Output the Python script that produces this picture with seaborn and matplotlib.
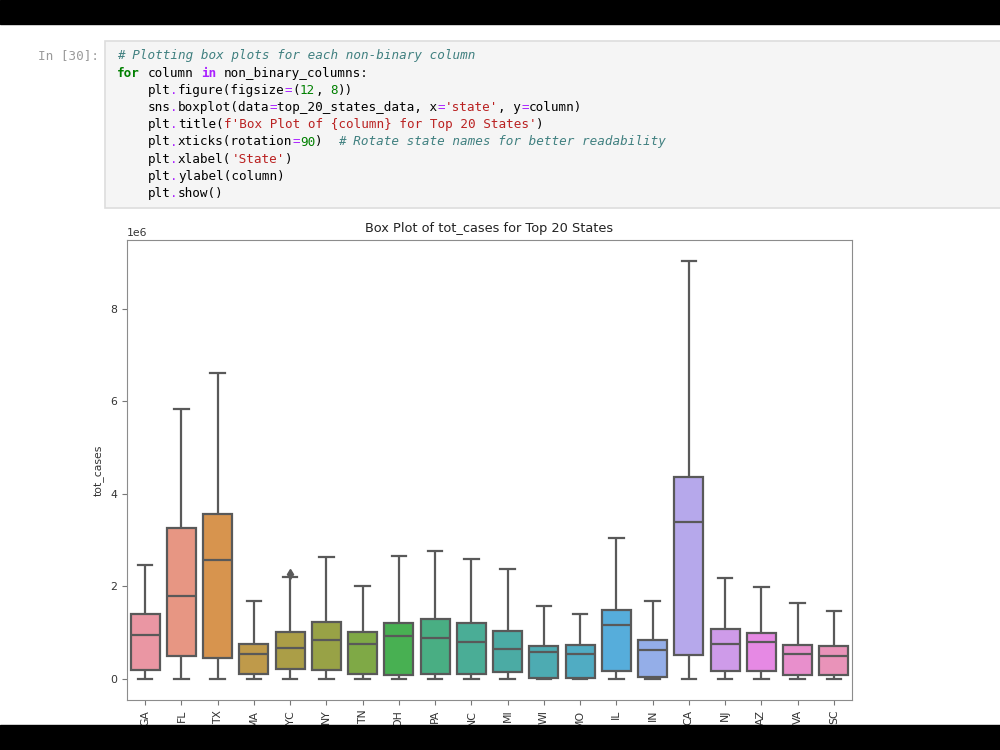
import re
import pandas as pd
import seaborn as sns
import matplotlib.pyplot as plt
from matplotlib.patches import Rectangle
from matplotlib.font_manager import FontProperties

# values (millions of cases)
states = ['GA', 'FL', 'TX', 'MA', 'NYC', 'NY', 'TN', 'OH', 'PA', 'NC',
          'MI', 'WI', 'MO', 'IL', 'IN', 'CA', 'NJ', 'AZ', 'VA', 'SC']
lows = [0.0] * 20
q1s = [0.20, 0.50, 0.45, 0.10, 0.22, 0.19, 0.10, 0.08, 0.10, 0.12,
       0.15, 0.03, 0.03, 0.17, 0.05, 0.52, 0.17, 0.17, 0.08, 0.08]
medians = [0.95, 1.80, 2.57, 0.55, 0.68, 0.85, 0.75, 0.93, 0.88, 0.81,
           0.65, 0.59, 0.55, 1.16, 0.63, 3.39, 0.75, 0.80, 0.55, 0.49]
q3s = [1.40, 3.26, 3.57, 0.76, 1.02, 1.23, 1.02, 1.20, 1.29, 1.21,
       1.04, 0.72, 0.74, 1.49, 0.84, 4.37, 1.09, 0.99, 0.74, 0.71]
highs = [2.46, 5.84, 6.62, 1.69, 2.20, 2.64, 2.01, 2.66, 2.77, 2.59,
         2.37, 1.58, 1.40, 3.05, 1.69, 9.03, 2.18, 1.99, 1.64, 1.46]
# NYC has extra points, incl. one outlier above the whisker
nyc_extra = [0.10, 0.45, 0.85, 2.27]

rows = []
for i, st in enumerate(states):
    for v in (lows[i], q1s[i], medians[i], q3s[i], highs[i]):
        rows.append((st, v * 1e6))
for v in nyc_extra:
    rows.append(('NYC', v * 1e6))
top_20_states_data = pd.DataFrame(rows, columns=['state', 'tot_cases'])

code_lines = [
    "# Plotting box plots for each non-binary column",
    "for column in non_binary_columns:",
    "    plt.figure(figsize=(12, 8))",
    "    sns.boxplot(data=top_20_states_data, x='state', y=column)",
    "    plt.title(f'Box Plot of {column} for Top 20 States')",
    "    plt.xticks(rotation=90)  # Rotate state names for better readability",
    "    plt.xlabel('State')",
    "    plt.ylabel(column)",
    "    plt.show()",
]

fig = plt.figure(figsize=(10, 7.5), dpi=100)

# the chart itself
ax = fig.add_axes([0.127, 0.0667, 0.725, 0.6133])
pal = sns.husl_palette(len(states), l=0.7)
sns.boxplot(data=top_20_states_data, x='state', y='tot_cases', hue='state',
            palette=pal, legend=False, saturation=0.75, linewidth=1.6,
            linecolor='#595959',
            flierprops=dict(marker='d', markerfacecolor='#595959',
                            markeredgecolor='#595959', markersize=5), ax=ax)
ax.set_title('Box Plot of tot_cases for Top 20 States', fontsize=9.3,
             color='#222222')
ax.tick_params(axis='x', rotation=90, labelsize=7.8, color='#777777',
               labelcolor='#333333')
ax.tick_params(axis='y', labelsize=7.8, color='#777777', labelcolor='#333333')
ax.yaxis.get_offset_text().set_fontsize(7.8)
ax.set_xlabel('State', fontsize=7.8)
ax.set_ylabel('tot_cases', fontsize=7.8, color='#333333')
for sp in ax.spines.values():
    sp.set_color('#8c8c8c')

# notebook chrome drawn on top, in pixel coords
ov = fig.add_axes([0, 0, 1, 1], zorder=10)
ov.set_xlim(0, 1000)
ov.set_ylim(750, 0)
ov.axis('off')
ov.patch.set_alpha(0)
ov.add_patch(Rectangle((0, 0), 1000, 24, color='black'))
ov.add_patch(Rectangle((0, 725), 1000, 25, color='black'))
ov.add_patch(Rectangle((105, 41), 910, 167, facecolor='#f5f5f5',
                       edgecolor='#dddddd', linewidth=1.2))

mono = 'DejaVu Sans Mono'
fs = 9.1
ov.text(38, 56, 'In [30]:', family=mono, fontsize=fs, color='#9a9a9a',
        va='center', ha='left')

# measure the real char advance so tokens line up
renderer = fig.canvas.get_renderer()
fp = FontProperties(family=mono, size=fs)
w1 = renderer.get_text_width_height_descent('x', fp, ismath=False)[0]
w41 = renderer.get_text_width_height_descent('x' * 41, fp, ismath=False)[0]
cw = (w41 - w1) / 40

# simple syntax colouring
classes = [
    ('#408080', 'italic', 'normal'),   # comment
    ('#BA2121', 'normal', 'normal'),   # string
    ('#008000', 'normal', 'normal'),   # number
    ('#008000', 'normal', 'bold'),     # for
    ('#AA22FF', 'normal', 'bold'),     # in
    ('#AA22FF', 'normal', 'normal'),   # operator
    ('#000000', 'normal', 'normal'),   # rest
]
token_re = re.compile(r"(#.*$)|(f?'[^']*')|(\b\d+\b)|(\bfor\b)|(\bin\b)|([=.])|(.)")
for li, line in enumerate(code_lines):
    y = 56 + li * 17.2
    kinds = [6] * len(line)
    for m in token_re.finditer(line):
        for j in range(m.start(), m.end()):
            kinds[j] = m.lastindex - 1
    # group runs of the same class
    j = 0
    while j < len(line):
        k = kinds[j]
        e = j
        while e < len(line) and kinds[e] == k:
            e += 1
        run = line[j:e]
        lead = len(run) - len(run.lstrip(' '))
        s = run.strip(' ')
        if s:
            color, style, weight = classes[k]
            ov.text(117 + (j + lead) * cw, y, s, family=mono, fontsize=fs,
                    color=color, fontstyle=style, fontweight=weight,
                    va='center', ha='left')
        j = e

fig.savefig('out.png', dpi=100, facecolor='white')
